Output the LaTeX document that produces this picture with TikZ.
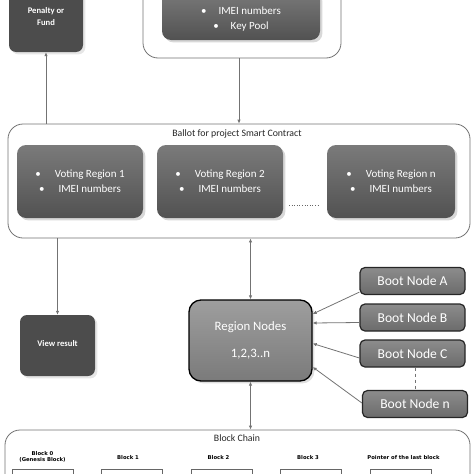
\documentclass[tikz,border=0pt]{standalone}
\usepackage{fontspec}
\setmainfont{Carlito}
\newfontfamily\blkfont{DejaVu Sans}
\usetikzlibrary{arrows.meta, positioning, shadows}

\begin{document}
\begin{tikzpicture}[
  x=1pt, y=-1pt,
  outer/.style={rectangle, draw=black!55, line width=0.8pt, rounded corners=15pt, fill=white},
  darkbox/.style={rectangle, rounded corners=7pt, fill=black!70, text=white, align=center,
    font=\bfseries\fontsize{8.6}{12}\selectfont, drop shadow={opacity=0.2}},
  listbox/.style={rectangle, rounded corners=9pt, top color=black!52, bottom color=black!68,
    text=white, align=center, font=\fontsize{11}{15}\selectfont, drop shadow={opacity=0.3}},
  regionbox/.style={rectangle, rounded corners=12pt, draw=black, line width=1.3pt,
    top color=black!38, bottom color=black!52, text=white, align=center,
    font=\fontsize{12.8}{27}\selectfont, drop shadow={opacity=0.25}},
  bootbox/.style={rectangle, rounded corners=5pt, draw=black!85, line width=1.2pt,
    top color=black!45, bottom color=black!58, text=white,
    font=\fontsize{13.6}{15}\selectfont, minimum width=105pt, minimum height=27pt},
  blockbox/.style={rectangle, draw=black!60, line width=0.6pt, minimum width=61pt, minimum height=30pt},
  blklabel/.style={align=center, inner sep=0pt, font=\blkfont\bfseries\fontsize{5.3}{6}\selectfont},
  title/.style={text=black!85, font=\fontsize{9.8}{12}\selectfont},
  conn/.style={draw=black!55, line width=0.8pt, -{Latex[length=4pt,width=3.5pt]}},
  both/.style={draw=black!55, line width=0.8pt, {Latex[length=4pt,width=3.5pt]}-{Latex[length=4pt,width=3.5pt]}}
]
\useasboundingbox (0,0) rectangle (474,474);
\clip (0,0) rectangle (474,474);

% Top level
\node[darkbox, minimum width=74pt, minimum height=70pt] (penalty) at (46,17) {Penalty or\\Fund};
\node[outer, minimum width=198pt, minimum height=88pt] (project) at (242,14) {};
\node[listbox, minimum width=158pt, minimum height=50pt] (keypool) at (241,15)
  {\mbox{}\\\textbullet\hspace{12pt}IMEI numbers\\\textbullet\hspace{12pt}Key Pool};

% Ballot contract
\node[outer, minimum width=462pt, minimum height=114pt] (ballot) at (239,181) {};
\node[title] (ballottitle) at (237,134) {Ballot for project Smart Contract};
\node[listbox, minimum width=126pt, minimum height=73pt] (vote1) at (80,181.5)
  {\textbullet\hspace{14pt}Voting Region 1\\\textbullet\hspace{14pt}IMEI numbers};
\node[listbox, minimum width=126pt, minimum height=73pt] (vote2) at (220,181.5)
  {\textbullet\hspace{14pt}Voting Region 2\\\textbullet\hspace{14pt}IMEI numbers};
\node[listbox, minimum width=128pt, minimum height=73pt] (voten) at (391,181.5)
  {\textbullet\hspace{14pt}Voting Region n\\\textbullet\hspace{14pt}IMEI numbers};
\draw[black!60, dotted, line width=0.6pt] (289,205) -- (318,205);

% Result and region nodes
\node[darkbox, minimum width=75pt, minimum height=61pt] (view) at (57.5,345.5) {\raisebox{4pt}{View result}};
\node[regionbox, minimum width=123pt, minimum height=81pt] (region) at (250.5,340.5) {Region Nodes\\1,2,3..n};

% Boot nodes
\node[bootbox] (bootA) at (412.5,281) {Boot Node A};
\node[bootbox] (bootB) at (412.5,317.5) {Boot Node B};
\node[bootbox] (bootC) at (412.5,353.5) {Boot Node C};
\node[bootbox] (bootn) at (415,404) {Boot Node n};

% Block chain
\node[outer, minimum width=465pt, minimum height=100pt] (chain) at (237.5,480) {};
\node[title] (chaintitle) at (237,438) {Block Chain};
\node[blockbox] (blk0) at (42.5,484) {};
\node[blockbox] (blk1) at (132,484) {};
\node[blockbox] (blk2) at (221.5,484) {};
\node[blockbox] (blk3) at (311,484) {};
\node[blockbox] (blk4) at (400.5,484) {};
\node[blklabel, above=6pt of blk0] (lbl0) {Block 0\\(Genesis Block)};
\node[blklabel, above=9pt of blk1, xshift=-4pt] (lbl1) {Block 1};
\node[blklabel, above=9pt of blk2, xshift=-3pt] (lbl2) {Block 2};
\node[blklabel, above=9pt of blk3, xshift=-3pt] (lbl3) {Block 3};
\node[blklabel, above=9pt of blk4, xshift=3pt] (lbl4) {Pointer of the last block};

% Arrows
\draw[conn] (penalty.south |- ballot.north) -- (penalty.south);
\draw[conn] (ballot.north |- project.south) -- (ballot.north);
\draw[conn] (ballot.south -| view.north) -- (view.north);
\draw[both] (region.north |- ballot.south) -- (region.north);
\draw[both] (region.south) -- (region.south |- chain.north);

\draw[conn] ([yshift=3pt]bootA.south west) -- ([yshift=26.5pt]region.east);
\draw[conn] ([yshift=-5pt]bootB.west) -- ([yshift=17.5pt]region.east);
\draw[conn] ([yshift=-4.5pt]bootC.west) -- ([yshift=-3pt]region.east);
\draw[conn] ([yshift=1pt]bootn.west) -- ([yshift=-26.5pt]region.east);
\draw[black!55, dashed, line width=0.7pt] (bootn.north |- bootC.south) -- (bootn.north);

\end{tikzpicture}
\end{document}
